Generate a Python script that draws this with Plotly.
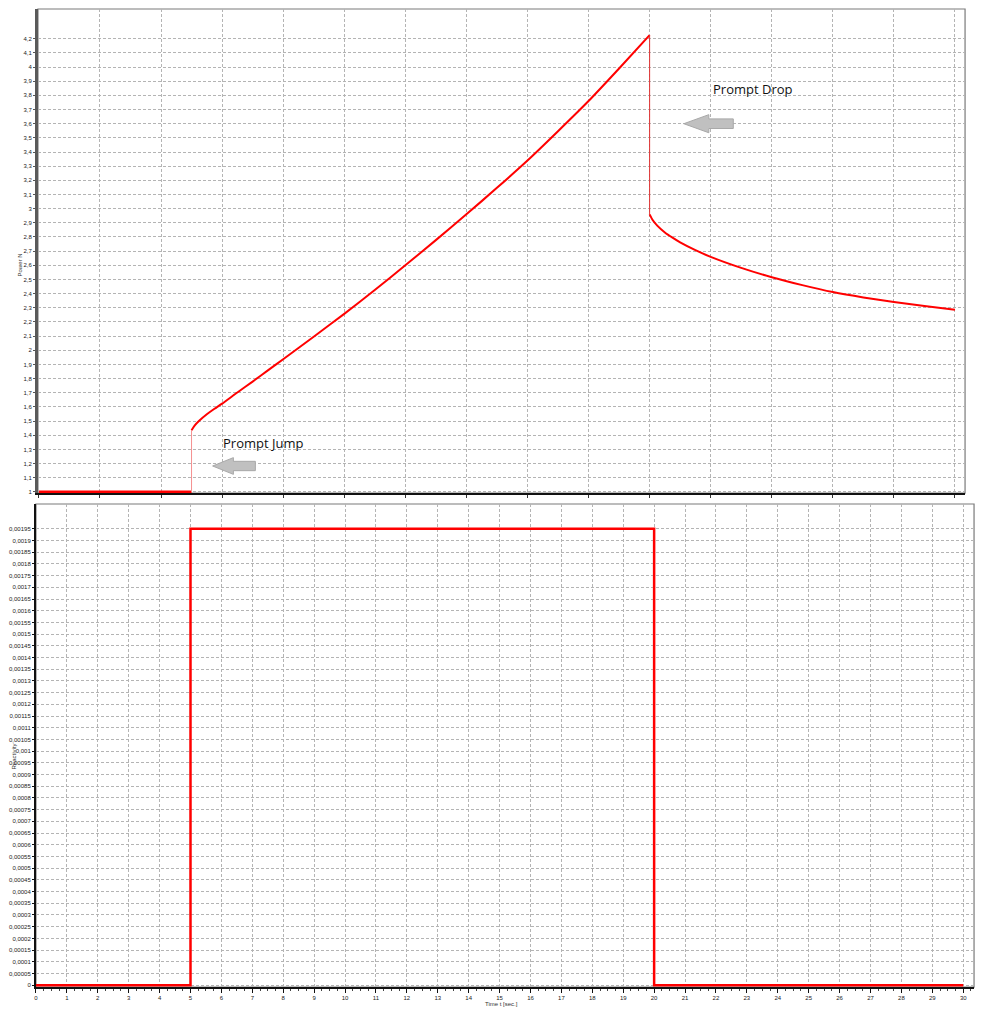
import plotly.graph_objects as go

# Power N (top panel)
t_base = [0, 5]
p_base = [1, 1]

t_rise = [5.0, 5.1, 5.25, 5.5, 5.75, 6, 6.5, 7, 7.5, 8, 9, 10, 11, 12, 13, 14, 15, 16, 17, 18, 19, 20]
p_rise = [1.435, 1.468, 1.502, 1.548, 1.587, 1.623, 1.702, 1.779, 1.858, 1.937, 2.096, 2.257, 2.426,
          2.60, 2.778, 2.96, 3.147, 3.34, 3.547, 3.76, 3.99, 4.225]

t_decay = [20, 20.1, 20.25, 20.5, 20.75, 21, 21.5, 22, 23, 24, 25, 26, 27, 28, 29, 30]
p_decay = [2.96, 2.92, 2.88, 2.832, 2.795, 2.762, 2.707, 2.66, 2.582, 2.516, 2.46, 2.411, 2.373,
           2.341, 2.312, 2.287]

# Reactivity (bottom panel)
t_rho = [0, 5, 20, 30]
rho = [0, 0.00195, 0, 0]

power_ticks = [round(1 + 0.1 * i, 1) for i in range(33)]
rho_ticks = [round(0.00005 * i, 5) for i in range(40)]
time_ticks = list(range(31))


def comma(v, nd):
    s = f"{v:.{nd}f}".rstrip("0").rstrip(".")
    return s.replace(".", ",")


RED = "#ff0000"
GRID = "#b4b4b4"
TICKFONT = dict(family="Liberation Sans, Arial", size=6, color="#222")

# the page body adds an 8px margin around the figure
OFF = 8
W, H = 995 - OFF, 1024 - OFF
fig = go.Figure()

# top panel
fig.add_trace(go.Scatter(x=t_base, y=p_base, mode="lines", line=dict(color=RED, width=3),
                         xaxis="x", yaxis="y", showlegend=False))
fig.add_trace(go.Scatter(x=[t_base[-1], t_rise[0]], y=[p_base[-1], p_rise[0]], mode="lines",
                         line=dict(color="#f59090", width=1), xaxis="x", yaxis="y", showlegend=False))
fig.add_trace(go.Scatter(x=t_rise, y=p_rise, mode="lines", line=dict(color=RED, width=2, shape="spline", smoothing=0.6),
                         xaxis="x", yaxis="y", showlegend=False))
fig.add_trace(go.Scatter(x=[t_rise[-1], t_decay[0]], y=[p_rise[-1], p_decay[0]], mode="lines",
                         line=dict(color="#e03030", width=1), xaxis="x", yaxis="y", showlegend=False))
fig.add_trace(go.Scatter(x=t_decay, y=p_decay, mode="lines", line=dict(color=RED, width=2, shape="spline", smoothing=0.6),
                         xaxis="x", yaxis="y", showlegend=False))

# bottom panel
fig.add_trace(go.Scatter(x=t_rho, y=rho, mode="lines", line=dict(color=RED, width=2.5, shape="hv"),
                         xaxis="x2", yaxis="y2", showlegend=False))


def px_x(p):
    return (p - OFF) / W


def px_y(p):
    return 1 - (p - OFF) / H


grid_common = dict(showgrid=True, gridcolor=GRID, gridwidth=1, griddash="3px,2px", zeroline=False)

fig.update_layout(
    width=W, height=H,
    margin=dict(l=0, r=0, t=0, b=0),
    paper_bgcolor="white", plot_bgcolor="white",
    xaxis=dict(domain=[px_x(36), px_x(965)], range=[-0.03, 30.33], anchor="y",
               tickvals=list(range(0, 31, 2)), showticklabels=False, ticks="outside", ticklen=3,
               tickcolor="#333", showline=True, linecolor="#111", linewidth=2, **grid_common),
    yaxis=dict(domain=[px_y(494), px_y(9)], range=[0.992, 4.41], anchor="x",
               tickvals=power_ticks, ticktext=[comma(v, 1) for v in power_ticks],
               tickfont=TICKFONT, ticks="outside", ticklen=2, tickcolor="#555",
               showline=True, linecolor="#5a5a5a", linewidth=3, **grid_common),
    xaxis2=dict(domain=[px_x(34), px_x(974)], range=[0, 30.35], anchor="y2",
                tickvals=time_ticks, ticktext=[str(v) for v in time_ticks], tickfont=TICKFONT,
                ticks="outside", ticklen=4, tickcolor="#111",
                minor=dict(dtick=0.25, ticks="outside", ticklen=2, tickcolor="#444", showgrid=False),
                showline=True, linecolor="#111", linewidth=2, **grid_common),
    yaxis2=dict(domain=[px_y(989), px_y(505)], range=[-0.000008, 0.002056], anchor="x2",
                tickvals=rho_ticks, ticktext=[comma(v, 5) for v in rho_ticks], tickfont=TICKFONT,
                ticks="outside", ticklen=2, tickcolor="#111",
                showline=True, linecolor="#111", linewidth=2, **grid_common),
)

# panel frames
for xr, yr in [("x", "y"), ("x2", "y2")]:
    fig.add_shape(type="rect", xref=xr + " domain", yref=yr + " domain", x0=0, x1=1, y0=0, y1=1,
                  line=dict(color="#7a7a7a", width=1.2), layer="below")


def block_arrow(tip, head_back, tail, yc, half_head, half_shaft):
    return (f"M {tip},{yc} L {head_back},{yc + half_head} L {head_back},{yc + half_shaft} "
            f"L {tail},{yc + half_shaft} L {tail},{yc - half_shaft} L {head_back},{yc - half_shaft} "
            f"L {head_back},{yc - half_head} Z")


fig.add_shape(type="path", xref="x", yref="y",
              path=block_arrow(5.69, 6.37, 7.09, 1.183, 0.059, 0.033),
              fillcolor="#c0c0c0", line=dict(color="#a8a8a8", width=1))
fig.add_shape(type="path", xref="x", yref="y",
              path=block_arrow(21.12, 21.94, 22.74, 3.60, 0.064, 0.034),
              fillcolor="#c0c0c0", line=dict(color="#a8a8a8", width=1))

note_font = dict(family="Open Sans", size=13, color="#111")
fig.add_annotation(x=5.95, y=1.345, xref="x", yref="y", text="Prompt Jump", showarrow=False,
                   xanchor="left", yanchor="middle", font=note_font)
fig.add_annotation(x=22.0, y=3.845, xref="x", yref="y", text="Prompt Drop", showarrow=False,
                   xanchor="left", yanchor="middle", font=note_font)

title_font = dict(family="Liberation Sans, Arial", size=6, color="#333")
fig.add_annotation(x=px_x(19), y=px_y(265), xref="paper", yref="paper", text="Power N",
                   textangle=-90, showarrow=False, font=title_font,
                   xanchor="center", yanchor="middle")
fig.add_annotation(x=px_x(12), y=px_y(758), xref="paper", yref="paper", text="Reactivity",
                   textangle=-90, showarrow=False, font=title_font,
                   xanchor="center", yanchor="middle")
fig.add_annotation(x=px_x(500), y=px_y(1006), xref="paper", yref="paper", text="Time t [sec.]",
                   showarrow=False, font=title_font, xanchor="center", yanchor="middle")

fig.write_html("out.html")
